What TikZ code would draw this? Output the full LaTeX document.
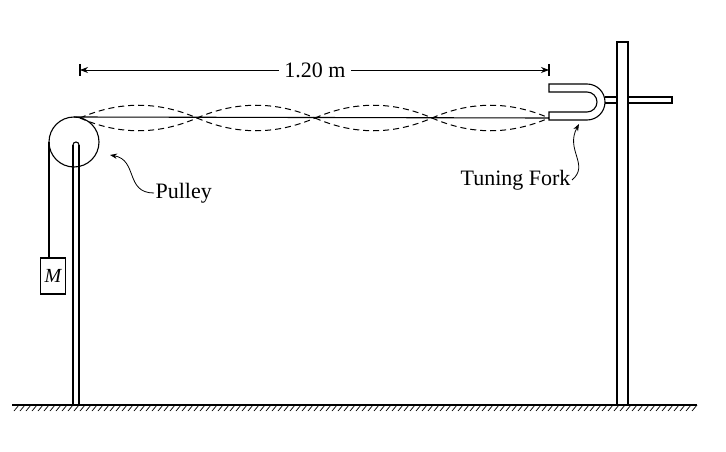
\documentclass[tikz,border=0pt]{standalone}
\usepackage{fontspec}
\setmainfont{Liberation Serif}
\usetikzlibrary{arrows.meta}
\begin{document}
\begin{tikzpicture}[x=1pt,y=-1pt,line width=1.1pt,
  wave/.style={dashed,dash pattern=on 6pt off 4pt,line width=1pt},
  lbl/.style={font=\fontsize{22}{22}\selectfont,inner sep=1pt}]
\useasboundingbox (0,0) rectangle (726,452);
% ground
\draw (12,405) -- (697,405);
\foreach \x in {14,20,...,696} \draw[line width=0.7pt] (\x,411) -- (\x+5,405);
% post
\draw[fill=white] (617,42) rectangle (628,405);
% pulley pole
\draw (73,145) -- (73,405) (79,145) -- (79,405);
\draw (73,145) arc (180:360:3);
% pulley
\draw (74,142) circle (25);
\coordinate (ptop) at (74,117);
% rope and mass
\draw (49,142) -- (49,258);
\node[draw,minimum width=25pt,minimum height=36pt,inner sep=0pt,font=\fontsize{20}{20}\selectfont\itshape] (M) at (53,276) {M};
% fork
\draw (549,84) -- (587,84) arc (-90:90:18) -- (549,120) -- (549,112) -- (587,112) arc (90:-90:10) -- (549,92) -- cycle;
\draw (605,97) -- (617,97) (628,97) -- (672,97) -- (672,103) -- (628,103) (605,103) -- (617,103);
\coordinate (fk) at (549,118);
% string
\draw (ptop) -- (fk);
% waves
\foreach \a/\b in {80/197,197/315,315/432,432/549}{
  \draw[wave] (\a,118) .. controls ({\a+(\b-\a)/3},101) and ({\a+2*(\b-\a)/3},101) .. (\b,118);
  \draw[wave] (\a,118) .. controls ({\a+(\b-\a)/3},135) and ({\a+2*(\b-\a)/3},135) .. (\b,118);
}
% dimension
\node[lbl,fill=white,inner xsep=5pt] (dim) at (315,70) {1.20 m};
\draw (80,64) -- (80,76) (549,64) -- (549,76);
\coordinate (dl) at (80,70); \coordinate (dr) at (549,70);
\draw[-{Stealth[length=8pt]},line width=0.8pt] (dim.west) -- (dl);
\draw[-{Stealth[length=8pt]},line width=0.8pt] (dim.east) -- (dr);
% labels
\node[lbl,anchor=west] (pl) at (154,193) {Pulley};
\coordinate (pa) at (110,155);
\draw[-{Stealth[length=7pt]},line width=0.8pt] (pl.west) .. controls (125,193) and (138,160) .. (pa);
\node[lbl,anchor=east] (tf) at (572,180) {Tuning Fork};
\coordinate (ta) at (579,124);
\draw[-{Stealth[length=7pt]},line width=0.8pt] (tf.east) .. controls (590,165) and (565,150) .. (ta);
\end{tikzpicture}
\end{document}
